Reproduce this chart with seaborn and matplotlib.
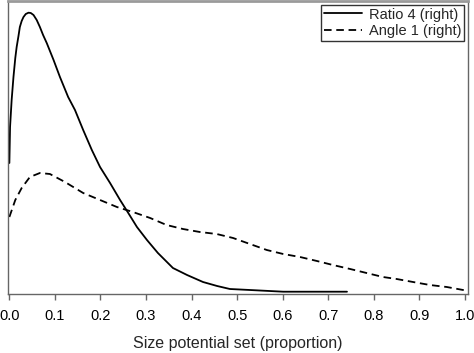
import numpy as np
import pandas as pd
import matplotlib
matplotlib.use("Agg")
import matplotlib.pyplot as plt
import seaborn as sns

# density curves (y in arbitrary density units)
ratio_x = [0.000, 0.0015, 0.005, 0.009, 0.013, 0.016, 0.020, 0.023, 0.027, 0.031,
           0.036, 0.042, 0.047, 0.053, 0.060, 0.067, 0.074,
           0.082, 0.097, 0.111, 0.129, 0.144, 0.162, 0.181, 0.199, 0.221, 0.243,
           0.261, 0.280, 0.302, 0.326, 0.359, 0.390, 0.425, 0.456, 0.484, 0.528,
           0.601, 0.741]
ratio_y = [131, 167, 194, 217, 236, 247, 258, 267, 273, 277,
           280, 281.3, 281, 279, 274, 267, 259,
           251, 234, 217, 197, 184, 164, 144, 127, 111, 94,
           81, 67, 54, 41, 26, 19, 12, 8, 5, 4,
           2.3, 2.3]

angle_x = [0.000, 0.013, 0.027, 0.045, 0.067, 0.089, 0.122, 0.162, 0.199, 0.236,
           0.271, 0.309, 0.345, 0.381, 0.418, 0.455, 0.491, 0.528, 0.565, 0.601,
           0.638, 0.675, 0.710, 0.748, 0.784, 0.820, 0.850, 0.886, 0.923, 0.960,
           0.996, 1.006]
angle_y = [77, 94, 106, 117, 121, 120, 112, 101, 94, 87,
           82, 76, 69, 65, 62, 60, 56, 50, 44, 40,
           37, 33, 29, 25, 21, 17, 15, 12, 9, 7,
           4, 3]

xticks = [0.0, 0.1, 0.2, 0.3, 0.4, 0.5, 0.6, 0.7, 0.8, 0.9, 1.0]

sns.set_style("white")
plt.rcParams['font.family'] = ['Liberation Sans', 'DejaVu Sans']

fig = plt.figure(figsize=(4.74, 3.53), dpi=100)
ax = fig.add_axes([8 / 474, 59 / 353, 460 / 474, 293 / 353])

df_r = pd.DataFrame({'x': ratio_x, 'y': ratio_y})
df_a = pd.DataFrame({'x': angle_x, 'y': angle_y})
sns.lineplot(data=df_r, x='x', y='y', ax=ax, color='black', lw=1.3,
             label='Ratio 4 (right)', sort=False)
sns.lineplot(data=df_a, x='x', y='y', ax=ax, color='black', lw=1.3,
             linestyle=(0, (4.2, 2.6)), label='Angle 1 (right)', sort=False)

ax.set_xlim(-0.003, 1.0066)
ax.set_ylim(0, 293)
ax.set_xticks(xticks)
ax.set_xticklabels([f'{t:.1f}' for t in xticks], fontsize=10.5)
ax.set_yticks([])
ax.set_ylabel('')
ax.set_xlabel('Size potential set (proportion)', fontsize=11.5, labelpad=9)
ax.tick_params(axis='x', direction='out', length=4, width=1, color='#666666',
               pad=7, bottom=True, labelcolor='black')
for side in ['left', 'bottom', 'right']:
    ax.spines[side].set_color('#666666')
    ax.spines[side].set_linewidth(1)
ax.spines['top'].set_color('#9a9a9a')
ax.spines['top'].set_linewidth(2)

leg = ax.legend(loc='upper right', fontsize=10.5, frameon=True, fancybox=False,
                framealpha=1, edgecolor='#333333', borderaxespad=0.25,
                handlelength=2.6, labelspacing=0.15, borderpad=0.2,
                handletextpad=0.5)
leg.get_frame().set_linewidth(1)

fig.savefig('out.png', dpi=100)
